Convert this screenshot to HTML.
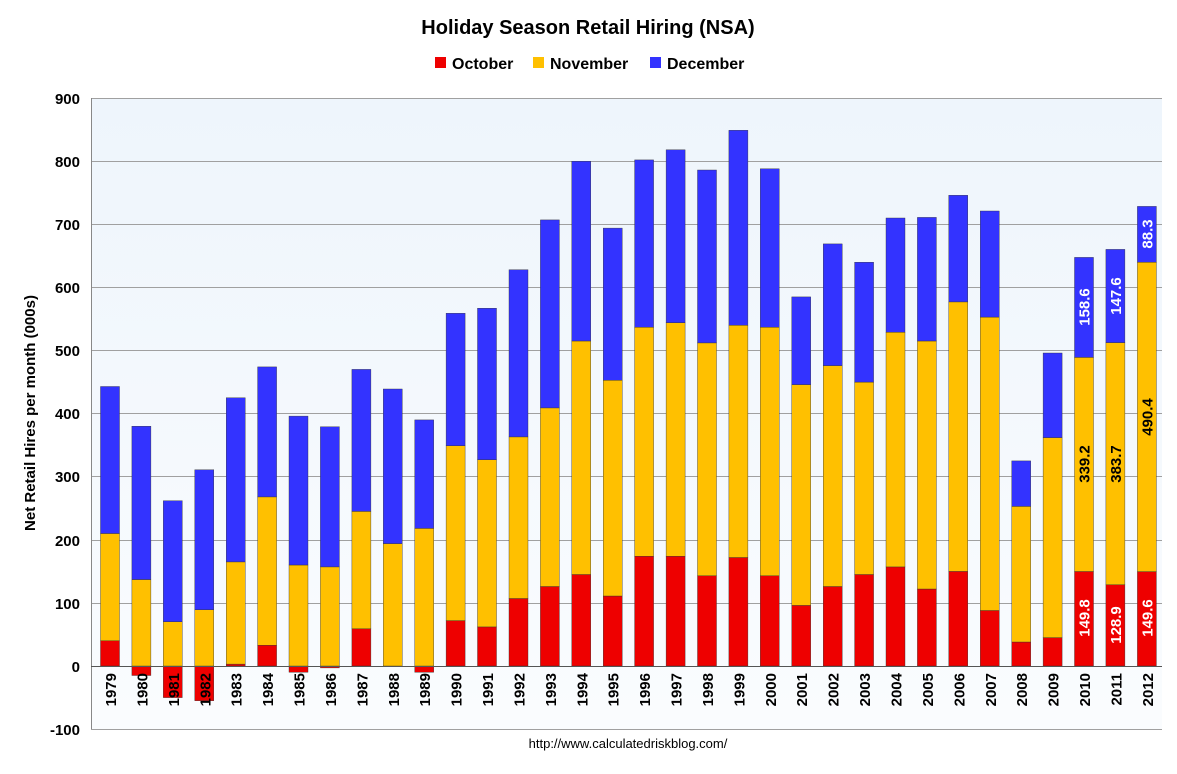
<!DOCTYPE html>
<html><head><meta charset="utf-8"><style>
body{margin:0;background:#fff}
text{font-family:"Liberation Sans",sans-serif}
</style></head><body>
<svg width="1177" height="769" xmlns="http://www.w3.org/2000/svg">
<defs><linearGradient id="bg" x1="0" y1="0" x2="0" y2="1"><stop offset="0" stop-color="#eef5fc"/><stop offset="1" stop-color="#fafcfe"/></linearGradient></defs>
<rect x="0" y="0" width="1177" height="769" fill="#fff"/>
<rect x="91" y="98" width="1071" height="631" fill="url(#bg)"/>
<g stroke="#a0a0a0" stroke-width="1">
<line x1="91" x2="1162" y1="98.5" y2="98.5"/><line x1="91" x2="1162" y1="161.5" y2="161.5"/><line x1="91" x2="1162" y1="224.5" y2="224.5"/><line x1="91" x2="1162" y1="287.5" y2="287.5"/><line x1="91" x2="1162" y1="350.5" y2="350.5"/><line x1="91" x2="1162" y1="413.5" y2="413.5"/><line x1="91" x2="1162" y1="476.5" y2="476.5"/><line x1="91" x2="1162" y1="540.5" y2="540.5"/><line x1="91" x2="1162" y1="603.5" y2="603.5"/><line x1="91" x2="1162" y1="729.5" y2="729.5"/>
</g>
<line x1="91.5" x2="91.5" y1="98" y2="729" stroke="#888"/>
<g font-size="15" font-weight="bold" text-anchor="end" fill="#000">
<text x="80" y="104">900</text><text x="80" y="167">800</text><text x="80" y="230">700</text><text x="80" y="293">600</text><text x="80" y="356">500</text><text x="80" y="419">400</text><text x="80" y="482">300</text><text x="80" y="546">200</text><text x="80" y="609">100</text><text x="80" y="672">0</text><text x="80" y="735">-100</text>
</g>
<text x="588" y="34" font-size="20" font-weight="bold" text-anchor="middle">Holiday Season Retail Hiring (NSA)</text>
<g font-size="16" font-weight="bold">
<rect x="435" y="57" width="11" height="11" fill="#ee0000"/><text x="452" y="69">October</text>
<rect x="533" y="57" width="11" height="11" fill="#ffc000"/><text x="550" y="69">November</text>
<rect x="650" y="57" width="11" height="11" fill="#3333ff"/><text x="667" y="69">December</text>
</g>
<text transform="translate(35,413) rotate(-90)" font-size="15" font-weight="bold" text-anchor="middle">Net Retail Hires per month (000s)</text>
<text x="628" y="748" font-size="13" text-anchor="middle">http://www.calculatedriskblog.com/</text>
<g stroke="#333" stroke-width="0.4">
<!-- red -->
<g fill="#ee0000">
<rect x="100.5" y="640.8" width="19" height="25.2"/><rect x="131.9" y="666" width="19" height="9.5"/><rect x="163.3" y="666" width="19" height="31.6"/><rect x="194.8" y="666" width="19" height="34.7"/><rect x="226.2" y="664.1" width="19" height="1.9"/><rect x="257.6" y="645.2" width="19" height="20.8"/><rect x="289" y="666" width="19" height="6.3"/><rect x="320.4" y="666" width="19" height="1.9"/><rect x="351.9" y="628.8" width="19" height="37.2"/><rect x="414.7" y="666" width="19" height="6.3"/><rect x="446.1" y="620.6" width="19" height="45.4"/><rect x="477.5" y="626.9" width="19" height="39.1"/><rect x="509" y="598.5" width="19" height="67.5"/><rect x="540.4" y="586.5" width="19" height="79.5"/><rect x="571.8" y="574.5" width="19" height="91.5"/><rect x="603.2" y="596" width="19" height="70"/><rect x="634.6" y="556.2" width="19" height="109.8"/><rect x="666.1" y="556.2" width="19" height="109.8"/><rect x="697.5" y="575.8" width="19" height="90.2"/><rect x="728.9" y="557.5" width="19" height="108.5"/><rect x="760.3" y="575.8" width="19" height="90.2"/><rect x="791.7" y="605.4" width="19" height="60.6"/><rect x="823.2" y="586.5" width="19" height="79.5"/><rect x="854.6" y="574.5" width="19" height="91.5"/><rect x="886" y="566.9" width="19" height="99.1"/><rect x="917.4" y="589" width="19" height="77"/><rect x="948.8" y="571.4" width="19" height="94.6"/><rect x="980.3" y="610.5" width="19" height="55.5"/><rect x="1011.7" y="642" width="19" height="24"/><rect x="1043.1" y="637.6" width="19" height="28.4"/><rect x="1074.5" y="571.5" width="19" height="94.5"/><rect x="1105.9" y="584.7" width="19" height="81.3"/><rect x="1137.4" y="571.6" width="19" height="94.4"/>
</g>
<g fill="#ffc000">
<rect x="100.5" y="533.5" width="19" height="107.3"/><rect x="131.9" y="579.6" width="19" height="86.4"/><rect x="163.3" y="621.8" width="19" height="44.2"/><rect x="194.8" y="609.8" width="19" height="56.2"/><rect x="226.2" y="561.9" width="19" height="102.2"/><rect x="257.6" y="496.9" width="19" height="148.3"/><rect x="289" y="565" width="19" height="101"/><rect x="320.4" y="566.9" width="19" height="99.1"/><rect x="351.9" y="511.4" width="19" height="117.4"/><rect x="383.3" y="543.6" width="19" height="122.4"/><rect x="414.7" y="528.4" width="19" height="137.6"/><rect x="446.1" y="445.8" width="19" height="174.8"/><rect x="477.5" y="459.7" width="19" height="167.2"/><rect x="509" y="436.9" width="19" height="161.6"/><rect x="540.4" y="407.9" width="19" height="178.6"/><rect x="571.8" y="341" width="19" height="233.5"/><rect x="603.2" y="380.2" width="19" height="215.8"/><rect x="634.6" y="327.2" width="19" height="229"/><rect x="666.1" y="322.7" width="19" height="233.5"/><rect x="697.5" y="342.9" width="19" height="232.9"/><rect x="728.9" y="325.3" width="19" height="232.2"/><rect x="760.3" y="327.2" width="19" height="248.6"/><rect x="791.7" y="384.6" width="19" height="220.8"/><rect x="823.2" y="365.6" width="19" height="220.9"/><rect x="854.6" y="382.1" width="19" height="192.4"/><rect x="886" y="332.2" width="19" height="234.7"/><rect x="917.4" y="341" width="19" height="248"/><rect x="948.8" y="301.9" width="19" height="269.5"/><rect x="980.3" y="317.1" width="19" height="293.4"/><rect x="1011.7" y="506.4" width="19" height="135.6"/><rect x="1043.1" y="437.6" width="19" height="200"/><rect x="1074.5" y="357.4" width="19" height="214.1"/><rect x="1105.9" y="342.6" width="19" height="242.1"/><rect x="1137.4" y="262.2" width="19" height="309.4"/>
</g>
<g fill="#3333ff">
<rect x="100.5" y="386.5" width="19" height="147"/><rect x="131.9" y="426.2" width="19" height="153.3"/><rect x="163.3" y="500.7" width="19" height="121.1"/><rect x="194.8" y="469.8" width="19" height="140"/><rect x="226.2" y="397.8" width="19" height="164.1"/><rect x="257.6" y="366.9" width="19" height="130"/><rect x="289" y="416.1" width="19" height="148.9"/><rect x="320.4" y="426.8" width="19" height="140.1"/><rect x="351.9" y="369.4" width="19" height="142"/><rect x="383.3" y="389" width="19" height="154.6"/><rect x="414.7" y="419.9" width="19" height="108.5"/><rect x="446.1" y="313.3" width="19" height="132.5"/><rect x="477.5" y="308.2" width="19" height="151.5"/><rect x="509" y="269.7" width="19" height="167.2"/><rect x="540.4" y="219.9" width="19" height="188"/><rect x="571.8" y="161.2" width="19" height="179.8"/><rect x="603.2" y="228.1" width="19" height="152.1"/><rect x="634.6" y="159.9" width="19" height="167.3"/><rect x="666.1" y="149.8" width="19" height="172.9"/><rect x="697.5" y="170" width="19" height="172.9"/><rect x="728.9" y="130.3" width="19" height="195"/><rect x="760.3" y="168.8" width="19" height="158.4"/><rect x="791.7" y="296.9" width="19" height="87.7"/><rect x="823.2" y="243.9" width="19" height="121.7"/><rect x="854.6" y="262.2" width="19" height="119.9"/><rect x="886" y="218" width="19" height="114.2"/><rect x="917.4" y="217.4" width="19" height="123.6"/><rect x="948.8" y="195.3" width="19" height="106.6"/><rect x="980.3" y="211" width="19" height="106.1"/><rect x="1011.7" y="460.9" width="19" height="45.5"/><rect x="1043.1" y="353" width="19" height="84.6"/><rect x="1074.5" y="257.4" width="19" height="100"/><rect x="1105.9" y="249.4" width="19" height="93.2"/><rect x="1137.4" y="206.4" width="19" height="55.8"/>
</g>
</g>
<line x1="91" x2="1162" y1="666.5" y2="666.5" stroke="#555"/>
<g font-size="15" font-weight="bold" text-anchor="end">
<text transform="translate(116,673) rotate(-90)">1979</text><text transform="translate(147.4,673) rotate(-90)">1980</text><text transform="translate(178.8,673) rotate(-90)">1981</text><text transform="translate(210.3,673) rotate(-90)">1982</text><text transform="translate(241.7,673) rotate(-90)">1983</text><text transform="translate(273.1,673) rotate(-90)">1984</text><text transform="translate(304.5,673) rotate(-90)">1985</text><text transform="translate(335.9,673) rotate(-90)">1986</text><text transform="translate(367.4,673) rotate(-90)">1987</text><text transform="translate(398.8,673) rotate(-90)">1988</text><text transform="translate(430.2,673) rotate(-90)">1989</text><text transform="translate(461.6,673) rotate(-90)">1990</text><text transform="translate(493,673) rotate(-90)">1991</text><text transform="translate(524.5,673) rotate(-90)">1992</text><text transform="translate(555.9,673) rotate(-90)">1993</text><text transform="translate(587.3,673) rotate(-90)">1994</text><text transform="translate(618.7,673) rotate(-90)">1995</text><text transform="translate(650.1,673) rotate(-90)">1996</text><text transform="translate(681.6,673) rotate(-90)">1997</text><text transform="translate(713,673) rotate(-90)">1998</text><text transform="translate(744.4,673) rotate(-90)">1999</text><text transform="translate(775.8,673) rotate(-90)">2000</text><text transform="translate(807.2,673) rotate(-90)">2001</text><text transform="translate(838.7,673) rotate(-90)">2002</text><text transform="translate(870.1,673) rotate(-90)">2003</text><text transform="translate(901.5,673) rotate(-90)">2004</text><text transform="translate(932.9,673) rotate(-90)">2005</text><text transform="translate(964.3,673) rotate(-90)">2006</text><text transform="translate(995.8,673) rotate(-90)">2007</text><text transform="translate(1027.2,673) rotate(-90)">2008</text><text transform="translate(1058.6,673) rotate(-90)">2009</text><text transform="translate(1090,673) rotate(-90)">2010</text><text transform="translate(1121.4,673) rotate(-90)">2011</text><text transform="translate(1152.9,673) rotate(-90)">2012</text>
</g>
<g font-size="15" text-anchor="middle" font-weight="bold">
<text transform="translate(1089.5,618) rotate(-90)" fill="#fff">149.8</text>
<text transform="translate(1120.9,625) rotate(-90)" fill="#fff">128.9</text>
<text transform="translate(1152.4,618) rotate(-90)" fill="#fff">149.6</text>
<text transform="translate(1089.5,464) rotate(-90)" fill="#000">339.2</text>
<text transform="translate(1120.9,464) rotate(-90)" fill="#000">383.7</text>
<text transform="translate(1152.4,417) rotate(-90)" fill="#000">490.4</text>
<text transform="translate(1089.5,307) rotate(-90)" fill="#fff">158.6</text>
<text transform="translate(1120.9,296) rotate(-90)" fill="#fff">147.6</text>
<text transform="translate(1152.4,234) rotate(-90)" fill="#fff">88.3</text>
</g>
</svg>
</body></html>
